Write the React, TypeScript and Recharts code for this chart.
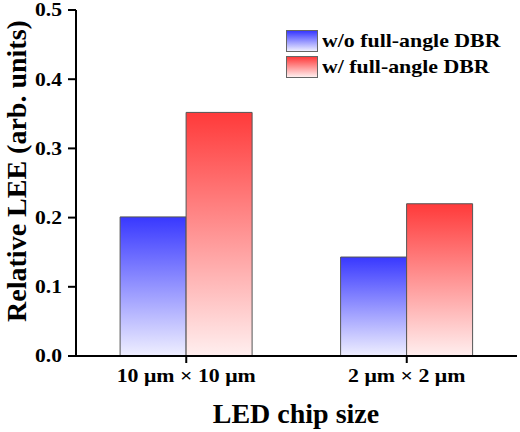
import { BarChart, Bar, XAxis, YAxis, Label } from 'recharts';

const chipSizes = ['10 μm × 10 μm', '2 μm × 2 μm'];
const withoutDbr = [0.201, 0.143];
const withDbr = [0.352, 0.22];
const yTicks = [0, 0.1, 0.2, 0.3, 0.4, 0.5];

const seriesNames = ['w/o full-angle DBR', 'w/ full-angle DBR'];

const data = chipSizes.map((size, i) => ({
  size,
  without: withoutDbr[i],
  with: withDbr[i],
}));

const FONT = '"Liberation Serif", "Times New Roman", serif';
// the reference text is a little wider than Liberation Serif
const STRETCH = 1.15;

const YTick = ({ x, y, payload }: any) => (
  <g transform={`translate(${x},${y}) scale(1.2,1)`}>
    <text textAnchor="end" dy="0.355em" fontSize={18} fontWeight="bold" fontFamily={FONT} fill="#000">
      {Number(payload.value).toFixed(1)}
    </text>
  </g>
);

const XTick = ({ x, y, payload }: any) => (
  <g transform={`translate(${x},${y}) scale(${STRETCH},1)`}>
    <text textAnchor="middle" dy="0.71em" fontSize={19} fontWeight="bold" fontFamily={FONT} fill="#000">
      {payload.value}
    </text>
  </g>
);

export default function App() {
  return (
    <div style={{ position: 'relative', width: 520, height: 432, fontFamily: FONT }}>
      <style>{'body{margin:0}'}</style>
      <BarChart
        width={520}
        height={432}
        data={data}
        margin={{ top: 10, right: 3, left: 0, bottom: 0 }}
        barCategoryGap="20%"
        barGap={0}
      >
        <defs>
          <linearGradient id="gradBlue" x1="0" y1="0" x2="0" y2="1">
            <stop offset="0%" stopColor="#3838ff" />
            <stop offset="100%" stopColor="#efefff" />
          </linearGradient>
          <linearGradient id="gradRed" x1="0" y1="0" x2="0" y2="1">
            <stop offset="0%" stopColor="#ff3a3a" />
            <stop offset="100%" stopColor="#ffefef" />
          </linearGradient>
        </defs>
        <XAxis
          dataKey="size"
          height={76}
          axisLine={{ stroke: '#000', strokeWidth: 2 }}
          tickLine={{ stroke: '#000', strokeWidth: 2 }}
          tickSize={7}
          tickMargin={6}
          tick={<XTick />}
        >
          <Label
            content={() => (
              <text
                x={296}
                y={423}
                textAnchor="middle"
                fontSize={28}
                fontWeight="bold"
                fontFamily={FONT}
                fill="#000"
              >
                LED chip size
              </text>
            )}
          />
        </XAxis>
        <XAxis
          xAxisId="top"
          dataKey="size"
          orientation="top"
          height={0}
          tick={false}
          tickLine={false}
          axisLine={{ stroke: '#000', strokeWidth: 2 }}
        />
        <YAxis
          width={76}
          domain={[0, 0.5]}
          ticks={yTicks}
          interval={0}
          axisLine={{ stroke: '#000', strokeWidth: 2 }}
          tickLine={{ stroke: '#000', strokeWidth: 2 }}
          tickSize={8}
          tickMargin={6}
          tick={<YTick />}
        >
          <Label
            content={() => (
              <text
                transform="translate(26, 171) rotate(-90)"
                textAnchor="middle"
                fontSize={28}
                fontWeight="bold"
                fontFamily={FONT}
                fill="#000"
              >
                Relative LEE (arb. units)
              </text>
            )}
          />
        </YAxis>
        <YAxis
          yAxisId="right"
          orientation="right"
          width={0}
          domain={[0, 0.5]}
          tick={false}
          tickLine={false}
          axisLine={{ stroke: '#000', strokeWidth: 2 }}
        />
        <Bar
          dataKey="without"
          name={seriesNames[0]}
          fill="url(#gradBlue)"
          stroke="#555"
          strokeWidth={1}
          isAnimationActive={false}
        />
        <Bar
          dataKey="with"
          name={seriesNames[1]}
          fill="url(#gradRed)"
          stroke="#555"
          strokeWidth={1}
          isAnimationActive={false}
        />
      </BarChart>
      <div style={{ position: 'absolute', left: 286, top: 29, fontSize: 19, fontWeight: 'bold', color: '#000' }}>
        {seriesNames.map((name, i) => (
          <div key={name} style={{ display: 'flex', alignItems: 'center', height: 24, marginBottom: 2 }}>
            <span
              style={{
                display: 'inline-block',
                width: 32,
                height: 22,
                boxSizing: 'border-box',
                border: '1px solid #666',
                background: i === 0
                  ? 'linear-gradient(#3838ff, #efefff)'
                  : 'linear-gradient(#ff3a3a, #ffefef)',
              }}
            />
            <span
              style={{
                marginLeft: 4,
                whiteSpace: 'nowrap',
                display: 'inline-block',
                transform: `scaleX(${STRETCH})`,
                transformOrigin: 'left center',
              }}
            >
              {name}
            </span>
          </div>
        ))}
      </div>
    </div>
  );
}
